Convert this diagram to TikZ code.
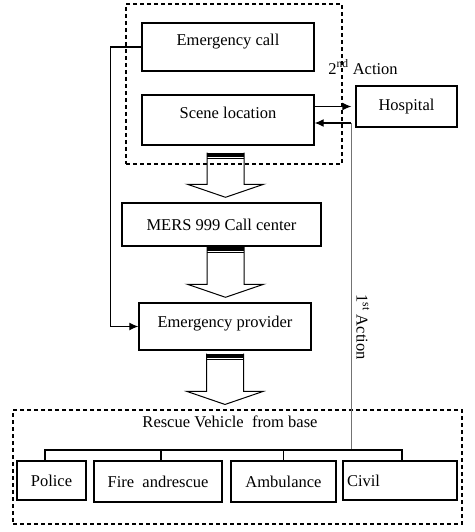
\documentclass[tikz,border=0pt]{standalone}
\usepackage{fontspec}
\setmainfont{Liberation Serif}
\usetikzlibrary{arrows.meta,calc}
\newcommand{\fatarrow}[2]{%
  \fill let \p1=#1 in (\x1-18.5pt,\y1) rectangle (\x1+18.5pt,\y1-4pt);
  \draw[line width=0.8pt] let \p1=#1 in (\x1-18.5pt,\y1-5.5pt) -- (\x1+18.5pt,\y1-5.5pt);
  \draw[line width=1pt] let \p1=#1, \p2=#2 in
    (\x1-18.5pt,\y1) -- (\x1-18.5pt,\y2+18pt) -- (\x1-38pt,\y2+18pt)
    -- (\x1,\y2+5pt) -- (\x1+38pt,\y2+18pt) -- (\x1+18.5pt,\y2+18pt) -- (\x1+18.5pt,\y1);
}

\begin{document}
\begin{tikzpicture}
    [x=1pt, y=-1pt,
        box/.style={draw, line width=1.4pt, inner sep=0pt},
        frame/.style={draw, line width=1.1pt, dash pattern=on 4pt off 3pt, inner sep=0pt},
        link/.style={line width=1.1pt, -{Latex[length=9pt,width=8pt]}},
    ]
    \tikzstyle{every node}=[font=\fontsize{16.5}{18}\selectfont]
    \useasboundingbox (0,0) rectangle (474,532);
    % upper block
    \node (upper) [frame, minimum width=216pt, minimum height=160pt] at (234,84) {};
    \node (call) [box, minimum width=172pt, minimum height=48pt, text depth=14pt] at (228,47) {Emergency call};
    \node (scene) [box, minimum width=172pt, minimum height=50pt, text depth=14pt] at (228,120) {Scene location};
    \node (hospital) [box, minimum width=101pt, minimum height=41pt] at (406.5,106.5) {Hospital};
    \node (second) at (363,67) {2\textsuperscript{nd} Action};
    % chain
    \node (mers) [box, minimum width=199pt, minimum height=43pt] at (221.5,224.5) {MERS 999 Call center};
    \node (provider) [box, minimum width=172pt, minimum height=47pt, text depth=9pt] at (225,326.5) {Emergency provider};
    \node (first) [rotate=-90] at (363,327) {1\textsuperscript{st} Action};
    % rescue vehicles
    \node (rescue) [frame, minimum width=449pt, minimum height=114pt] at (237.5,467) {};
    \node (base) at (230,422) {Rescue Vehicle\ \ from base};
    \node (police) [box, minimum width=69pt, minimum height=39pt] at (51.5,480.5) {Police};
    \node (fire) [box, minimum width=128pt, minimum height=41pt] at (158,481.5) {Fire\ \ andrescue};
    \node (ambulance) [box, minimum width=105pt, minimum height=41pt] at (283.5,481.5) {Ambulance};
    \node (civil) [box, minimum width=114pt, minimum height=39pt, text width=106pt, align=left] at (400,480.5) {Civil};
    \coordinate (bus) at (351,450);
    \coordinate (back) at (351,123);
    % big arrows
    \fatarrow{([shift={(-2.5,7)}]scene.south)}{(mers.north)}
    \fatarrow{([xshift=4pt]mers.south)}{(provider.north)}
    \fatarrow{([yshift=-3pt]provider.south)}{(rescue.north)}
    % connectors
    \draw[link] (call.west) -- ++(-31,0) |- (provider.west);
    \draw[link] (hospital.west -| scene.east) -- ([xshift=-4pt]hospital.west);
    \draw[link] (back) -- (back -| scene.east);
    \draw[line width=1pt, black!55] (bus) -- (back);
    \draw[line width=1.1pt] ([xshift=-6.5pt]police.north) |- (bus) -| ([xshift=2pt]civil.north);
    \draw[line width=1.1pt] ([xshift=3pt]fire.north) -- ++(0,-11);
    \draw[line width=1.1pt] (ambulance.north) -- ++(0,-11);
\end{tikzpicture}
\end{document}
